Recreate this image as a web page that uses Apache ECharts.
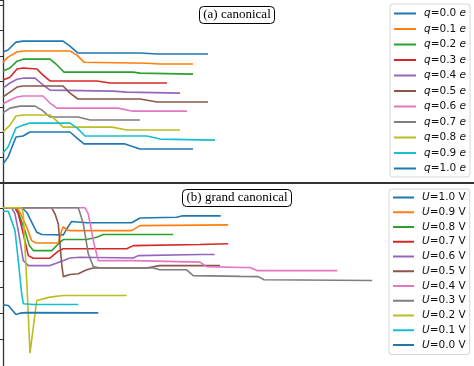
<!DOCTYPE html>
<html>
<head>
<meta charset="utf-8">
<script src="https://cdn.jsdelivr.net/npm/echarts@6/dist/echarts.min.js"></script>
<style>
html,body{margin:0;padding:0;background:#fff;}
#chart{width:474px;height:366px;}
</style>
</head>
<body>
<div id="chart"></div>
<script>
// ---- data (x: step index, y: value in tick units) ----
const canonicalNames = ['q=0.0 e','q=0.1 e','q=0.2 e','q=0.3 e','q=0.4 e','q=0.5 e','q=0.6 e','q=0.7 e','q=0.8 e','q=0.9 e','q=1.0 e'];
const grandNames = ['U=1.0 V','U=0.9 V','U=0.8 V','U=0.7 V','U=0.6 V','U=0.5 V','U=0.4 V','U=0.3 V','U=0.2 V','U=0.1 V','U=0.0 V'];
const panelTitles = ['(a) canonical', '(b) grand canonical'];

const q00 = [[0,5.16],[0.75,5.24],[1.94,5.55],[2.99,5.59],[8.96,5.59],[10,5.39],[11.19,5.12],[20.45,5.12],[22.99,5.08],[30.6,5.08]];
const q01 = [[0,4.76],[0.75,4.96],[2.09,5.16],[2.99,5.2],[10,5.2],[11.04,5.04],[12.09,4.76],[21.49,4.72],[23.43,4.69],[28.36,4.69]];
const q02 = [[0,4.41],[1.04,4.53],[2.09,4.8],[2.99,4.88],[7.01,4.88],[8.06,4.65],[9.1,4.37],[19.4,4.37],[20.45,4.33],[28.36,4.29]];
const q03 = [[0,4.06],[1.04,4.17],[2.09,4.49],[2.99,4.53],[5.07,4.49],[5.97,4.25],[7.01,4.02],[14.03,4.02],[15.97,3.94],[24.48,3.94]];
const q04 = [[0,3.74],[1.04,3.94],[2.09,4.09],[2.99,4.13],[4.78,4.13],[5.82,3.9],[7.01,3.66],[16.42,3.62],[18.51,3.58],[26.42,3.54]];
const q05 = [[0,3.39],[1.04,3.58],[2.09,3.78],[2.99,3.82],[8.96,3.82],[10,3.54],[11.19,3.31],[20.45,3.31],[22.99,3.19],[30.6,3.19]];
const q06 = [[0,3.11],[1.04,3.27],[2.09,3.39],[2.99,3.43],[5.97,3.43],[7.01,3.15],[8.06,2.95],[17.16,2.95],[19.4,2.83],[27.46,2.83]];
const q07 = [[0,2.76],[1.04,2.95],[2.54,3.03],[4.78,3.03],[5.82,2.87],[7.01,2.6],[11.19,2.6],[12.99,2.48],[20.45,2.48]];
const q08 = [[0,2.01],[1.04,2.28],[1.94,2.64],[2.99,2.68],[7.01,2.68],[8.06,2.44],[8.96,2.2],[16.27,2.2],[18.51,2.09],[26.42,2.09]];
const q09 = [[0,1.18],[0.75,1.42],[1.94,2.17],[2.99,2.28],[4.03,2.36],[10,2.36],[11.04,2.17],[12.24,1.85],[21.49,1.85],[23.43,1.73],[31.64,1.69]];
const q10 = [[0,0.75],[0.75,1.02],[1.94,1.81],[2.99,1.85],[4.03,2.01],[10,2.01],[11.04,1.77],[12.09,1.54],[18.21,1.54],[20.45,1.34],[28.36,1.34]];

const u10 = [[0,6.02],[2.79,6.02],[3.54,5.85],[4.28,5.47],[5.03,5.09],[5.78,5.0],[9.0,4.99],[9.51,5.21],[10.25,5.5],[12.49,5.45],[19.2,5.45],[20.45,5.63],[25.9,5.66],[26.67,5.71],[32.5,5.71]];
const u09 = [[0,6.02],[2.04,6.02],[2.54,5.85],[3.54,5.28],[4.28,4.77],[4.93,4.68],[8.25,4.68],[8.76,5.15],[9.0,5.30],[9.51,5.17],[10.25,5.15],[19.2,5.15],[20.45,5.34],[33.6,5.37]];
const u08 = [[0,6.02],[1.79,6.02],[2.28,5.85],[3.28,5.15],[3.93,4.58],[4.52,4.39],[7.27,4.39],[8.51,4.71],[9.0,4.81],[12.49,4.81],[13.98,4.90],[14.97,5.0],[25.4,5.0]];
const u07 = [[0,6.02],[1.79,6.02],[2.28,5.79],[3.03,5.03],[3.78,4.2],[4.52,4.1],[7.01,4.1],[8.25,4.37],[9.0,4.46],[18.46,4.46],[19.45,4.58],[29.4,4.62],[33.6,4.65]];
const u06 = [[0,6.02],[1.3,6.02],[1.79,5.79],[2.28,5.15],[3.03,4.01],[3.78,3.82],[7.01,3.82],[8.25,3.94],[10.0,4.11],[11.49,4.14],[19.45,4.11],[20.19,4.20],[29.4,4.24],[31.6,4.24]];
const u05 = [[0,6.02],[7.27,6.02],[7.76,5.79],[8.25,5.41],[8.76,3.89],[9.0,3.40],[10.0,3.48],[11.24,3.51],[12.49,3.66],[13.48,3.73],[21.4,3.73],[23.4,3.82],[32.4,3.82]];
const u04 = [[0,6.02],[12.24,6.02],[12.73,5.79],[13.48,4.77],[14.22,4.01],[19.45,4.01],[29.4,3.95],[30.4,3.78],[35.4,3.75],[36.9,3.75],[37.9,3.63],[49.9,3.63]];
const u03 = [[0,6.02],[11.24,6.02],[11.99,5.41],[12.73,4.27],[13.48,3.78],[14.48,3.73],[22.4,3.73],[23.4,3.66],[27.4,3.66],[28.4,3.44],[35.4,3.41],[38.1,3.40],[38.96,3.28],[55.1,3.25]];
const u02 = [[0,6.02],[2.79,6.02],[3.03,5.79],[3.54,3.25],[4.03,0.49],[5.03,2.49],[7.01,2.62],[9.0,2.68],[11.0,2.68],[18.46,2.68]];
const u01 = [[0,5.89],[0.79,5.89],[1.79,5.15],[2.28,4.01],[2.79,2.75],[3.03,2.37],[4.52,2.34],[11.24,2.34]];
const u00 = [[0,2.33],[0.79,2.30],[1.94,1.96],[2.54,2.01],[3.54,2.03],[14.22,2.02]];

const canonicalData = [q00,q01,q02,q03,q04,q05,q06,q07,q08,q09,q10];
const grandData = [u10,u09,u08,u07,u06,u05,u04,u03,u02,u01,u00];

// ---- styling ----
const palette = ['#1f77b4','#ff7f0e','#2ca02c','#d62728','#9467bd','#8c564b','#e377c2','#7f7f7f','#bcbd22','#17becf','#1f77b4'];
const spine = '#333';

const chart = echarts.init(document.getElementById('chart'), null, {renderer:'canvas'});

function mkSeries(names, datas, idx) {
  return names.map((n, i) => ({
    name: n, type: 'line', xAxisIndex: idx, yAxisIndex: idx,
    data: datas[i], showSymbol: false, symbol: 'none',
    lineStyle: {width: 1.6, color: palette[i]}, itemStyle: {color: palette[i]},
    animation: false, z: 2
  }));
}

function legendFormatter(unitItalic) {
  return function (name) {
    const m = name.match(/^(\S)=(\S+) (\S)$/);
    if (!m) return name;
    return '{i|' + m[1] + '}{n|=' + m[2] + ' }{' + (unitItalic ? 'i' : 'n') + '|' + m[3] + '}';
  };
}
const legendRich = {
  i: {fontFamily: 'DejaVu Sans', fontStyle: 'italic', fontSize: 10.5, color: '#111'},
  n: {fontFamily: 'DejaVu Sans', fontSize: 10.5, color: '#111'}
};

const yAxisCommon = {
  type: 'value', interval: 1, min: 0,
  axisLine: {show: true, lineStyle: {color: spine, width: 1.3}},
  axisTick: {show: true, length: 3, inside: false, lineStyle: {color: spine, width: 1}},
  axisLabel: {show: false}, splitLine: {show: false}
};

const option = {
  backgroundColor: '#fff',
  animation: false,
  grid: [
    {left: 3, right: 0, top: 0, height: 183},
    {left: 3, right: 0, top: 182, height: 184}
  ],
  xAxis: [
    {type: 'value', gridIndex: 0, min: 0, max: 70.3,
     axisLine: {show: true, onZero: false, lineStyle: {color: spine, width: 2}},
     axisTick: {show: false}, axisLabel: {show: false}, splitLine: {show: false}},
    {type: 'value', gridIndex: 1, min: 0, max: 70.3,
     axisLine: {show: false}, axisTick: {show: false}, axisLabel: {show: false}, splitLine: {show: false}}
  ],
  yAxis: [
    Object.assign({gridIndex: 0, max: 7.21}, yAxisCommon),
    Object.assign({gridIndex: 1, max: 7}, yAxisCommon)
  ],
  title: [
    {text: panelTitles[0], left: 'center', top: 7,
     textStyle: {fontFamily: 'Liberation Serif', fontSize: 13, fontWeight: 'normal', color: '#000', lineHeight: 12},
     backgroundColor: '#fff', borderColor: '#000', borderWidth: 1, borderRadius: 4, padding: [2, 4, 2, 4]},
    {text: panelTitles[1], left: 'center', top: 190,
     textStyle: {fontFamily: 'Liberation Serif', fontSize: 13, fontWeight: 'normal', color: '#000', lineHeight: 12},
     backgroundColor: '#fff', borderColor: '#000', borderWidth: 1, borderRadius: 4, padding: [2, 4, 2, 4]}
  ],
  legend: [
    {data: canonicalNames, orient: 'vertical', left: 390, top: 4,
     icon: 'rect', itemWidth: 22, itemHeight: 2, itemGap: 4.5,
     padding: [4, 4, 3, 4], backgroundColor: 'rgba(255,255,255,0.9)',
     borderColor: '#d6d6d6', borderWidth: 1, borderRadius: 3,
     formatter: legendFormatter(true),
     textStyle: {rich: legendRich, padding: [0, 0, 0, 3]}},
    {data: grandNames, orient: 'vertical', left: 389, top: 189,
     icon: 'rect', itemWidth: 21, itemHeight: 2, itemGap: 3.75,
     padding: [3, 4, 4, 4], backgroundColor: 'rgba(255,255,255,0.9)',
     borderColor: '#d6d6d6', borderWidth: 1, borderRadius: 3,
     formatter: legendFormatter(false),
     textStyle: {rich: legendRich, padding: [0, 0, 0, 3]}}
  ],
  series: mkSeries(canonicalNames, canonicalData, 0).concat(mkSeries(grandNames, grandData, 1))
};
chart.setOption(option);
</script>
</body>
</html>
